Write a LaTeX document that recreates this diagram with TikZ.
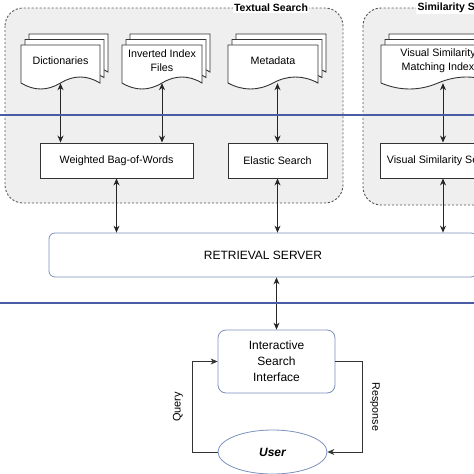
\documentclass[tikz,border=0pt]{standalone}
\usepackage{fontspec}
\setmainfont{Liberation Sans}
\usetikzlibrary{arrows.meta,shapes.geometric}

\definecolor{groupfill}{HTML}{EFEFEF}
\definecolor{groupline}{HTML}{555555}
\definecolor{serverline}{HTML}{7C91BE}
\definecolor{splitblue}{HTML}{4A5CA6}

\tikzset{
	group/.style={draw=groupline, fill=groupfill, dash pattern=on 2.2pt off 1.8pt, rounded corners=18pt, line width=0.9pt},
	grouptitle/.style={font=\fontsize{10.5}{12}\selectfont\bfseries, fill=white, inner sep=1.5pt},
	docline/.style={draw=black!80, fill=white, line width=0.9pt},
	doctext/.style={align=center, minimum height=44pt, font=\fontsize{10.7}{14}\selectfont},
	engine/.style={draw=black!80, fill=white, line width=0.9pt, minimum height=35pt, font=\fontsize{10.7}{13}\selectfont},
	server/.style={draw=serverline, fill=white, rounded corners=6pt, line width=0.8pt},
	link/.style={{Stealth[length=7pt,width=6pt]}-{Stealth[length=7pt,width=6pt]}, draw=black!85, line width=0.9pt},
	flow/.style={-{Stealth[length=7pt,width=6pt]}, draw=black!80, line width=0.9pt},
	split/.style={draw=splitblue, line width=1.3pt}
}

% left, top, right, wave line
\newcommand{\docpage}[4]{%
	\filldraw[docline] ({#1},{#2}) -- ({#3},{#2}) -- ({#3},{#4})
		.. controls ({(#3)-((#3)-(#1))/6},{(#4)-8}) and ({(#3)-((#3)-(#1))/3},{(#4)-8}) .. ({((#1)+(#3))/2},{#4})
		.. controls ({((#1)+(#3))/2-((#3)-(#1))/6},{(#4)+8}) and ({(#1)+((#3)-(#1))/6},{(#4)+8}) .. ({#1},{#4}) -- cycle;}
% name, left, top, right, wave line, text
\newcommand{\docstack}[6]{%
	\docpage{(#2)+8}{(#3)-11}{(#4)+8}{(#5)-11}
	\docpage{(#2)+4}{(#3)-5.5}{(#4)+4}{(#5)-5.5}
	\docpage{#2}{#3}{#4}{#5}
	\node[doctext] (#1) at ({((#2)+(#4))/2},{(#5)-22}) {#6};}

\begin{document}
\begin{tikzpicture}[x=1pt, y=-1pt]
	\useasboundingbox (0,0) rectangle (474,474);
	\clip (0,0) rectangle (474,474);

	\draw[group] (5,8) rectangle (343,203);
	\draw[group] (363,8) rectangle (560,205);
	\node[grouptitle] (texttitle) at (271,8) {Textual Search};
	\node[grouptitle, anchor=west] (simtitle) at (416,8) {Similarity Search};

	\docstack{dict}{21}{45}{100}{83}{Dictionaries}
	\docstack{invfiles}{122}{45}{202}{83}{Inverted Index\\Files}
	\docstack{meta}{228}{45}{318}{83}{Metadata}
	\docstack{vsindex}{381}{45}{495}{83}{Visual Similarity\\Matching Index}

	\node[engine, minimum width=153pt] (bow) at (116.5,160.5) {Weighted Bag-of-Words};
	\node[engine, minimum width=99pt] (elastic) at (277.5,160.5) {Elastic Search};
	\node[engine, minimum width=126pt] (vssearch) at (443,160.5) {Visual Similarity Search};

	\node[server, minimum width=428pt, minimum height=44pt, font=\fontsize{12}{14}\selectfont] (server) at (263,255) {RETRIEVAL SERVER};
	\node[server, rounded corners=8pt, minimum width=117pt, minimum height=63pt, align=center, font=\fontsize{12}{16}\selectfont] (iface) at (276.5,361.5) {Interactive\\Search\\Interface};
	\node[draw=serverline, fill=white, line width=0.8pt, ellipse, minimum width=109pt, minimum height=44pt, font=\fontsize{12}{14}\selectfont\bfseries\itshape] (user) at (272.5,452) {User};

	\draw[link] (dict.south) -- (dict.south |- bow.north);
	\draw[link] (invfiles.south) -- (invfiles.south |- bow.north);
	\draw[link] (meta.south -| elastic.north) -- (elastic.north);
	\draw[link] (vsindex.south -| vssearch.north) -- (vssearch.north);
	\draw[link] (bow.south) -- (bow.south |- server.north);
	\draw[link] (elastic.south) -- (elastic.south |- server.north);
	\draw[link] (vssearch.south) -- (vssearch.south |- server.north);
	\draw[link] (server.south -| iface.north) -- (iface.north);

	\draw[flow] (user.west) -- ++(-25,0) |- (iface.west);
	\draw[flow] (iface.east) -- ++(27,0) |- (user.east);
	\node[rotate=90, font=\fontsize{11}{13}\selectfont] (query) at (178,407) {Query};
	\node[rotate=-90, font=\fontsize{10.7}{13}\selectfont] (response) at (375,407) {Response};

	\draw[split] (-5,115) -- (480,115);
	\draw[split] (-5,303) -- (480,303);
\end{tikzpicture}
\end{document}
